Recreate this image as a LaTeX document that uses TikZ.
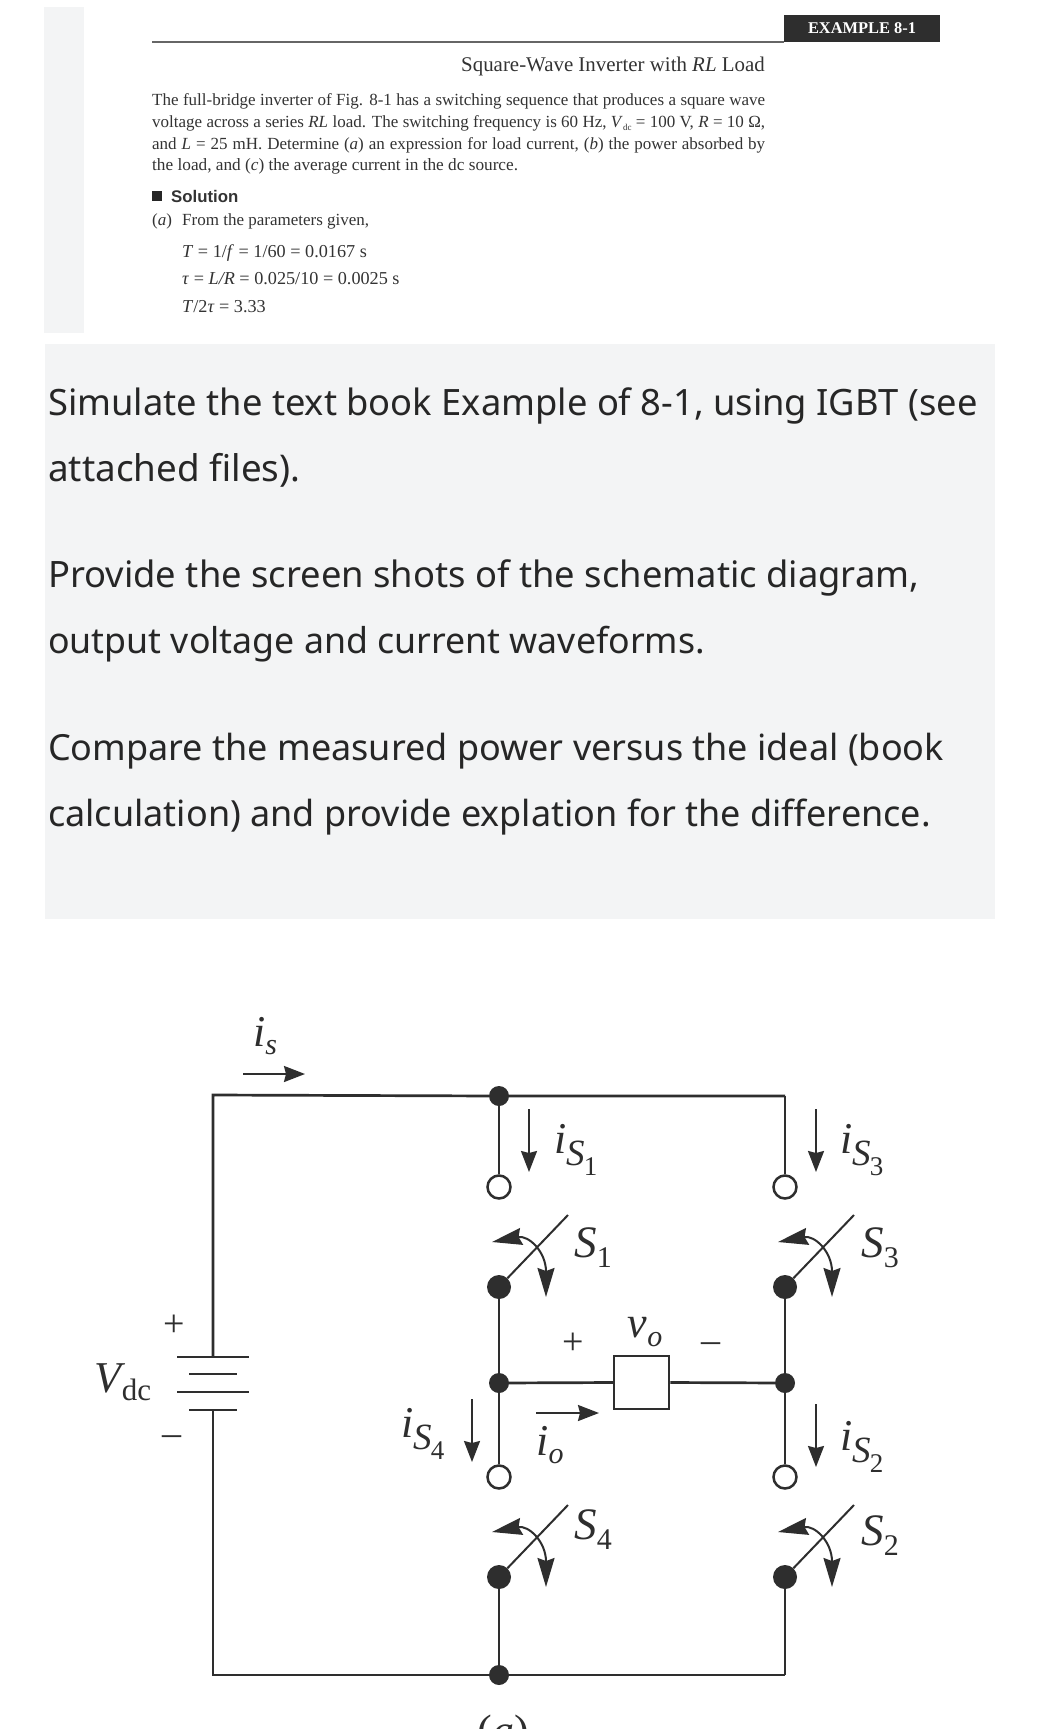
\documentclass[tikz,border=0pt]{standalone}
\usepackage{fontspec}
\usepackage{graphicx}
\usetikzlibrary{arrows.meta}
\setmainfont{Liberation Serif}
\newfontfamily\uifont{Noto Sans}
\newfontfamily\hfont{Liberation Sans}
\definecolor{ink}{HTML}{2E2E2E}
\definecolor{panel}{HTML}{F3F4F5}
\definecolor{textink}{HTML}{333333}
\newcommand\fs[1]{\fontsize{#1}{#1}\selectfont}
\newcommand\isub[1]{{\fs{44}\itshape i\hspace{-.02em}\raisebox{-.28em}{\fs{37}S\hspace{-.02em}\raisebox{-.28em}{\fs{27}\upshape #1}}}}
\newcommand\ssub[1]{{\fs{45}\itshape S\raisebox{-.22em}{\fs{30}\upshape #1}}}
\newcommand\bk[1]{{\fs{17}\color{textink}#1}}
\newcommand\bkq[1]{{\fs{18.2}\color{textink}#1}}
\newcommand\fitl[1]{\makebox[613pt][s]{\bk{#1}}}
\tikzset{
  wire/.style={draw=ink,line width=2.7pt},
  blade/.style={draw=ink,line width=2pt},
  platewire/.style={draw=ink,line width=2.2pt},
  thinarrow/.style={draw=ink,line width=2pt,-{Stealth[length=21pt,width=16pt,inset=2pt,fill=ink]}},
  swarrow/.style={draw=ink,line width=2pt,{Stealth[length=30pt,width=17pt,inset=3pt,fill=ink]}-{Stealth[length=29pt,width=17pt,inset=3pt,fill=ink]}},
  opendot/.style={circle,draw=ink,fill=white,line width=2.5pt,minimum size=23pt,inner sep=0pt},
  bigdot/.style={circle,fill=ink,minimum size=24pt,inner sep=0pt},
  smalldot/.style={circle,fill=ink,minimum size=20pt,inner sep=0pt},
  lab/.style={text=ink,inner sep=0pt},
  para/.style={anchor=west,inner sep=0pt},
  big/.style={anchor=base west,inner sep=0pt,text=black!85,font=\uifont\fs{36}}
}
\begin{document}
\begin{tikzpicture}[x=1pt,y=-1pt]
\useasboundingbox (0,0) rectangle (1059,1729);
\clip (0,0) rectangle (1059,1729);
\fill[white] (0,0) rectangle (1059,1729);
% panels
\fill[panel] (44,7) rectangle (84,333);
\fill[panel] (45,344) rectangle (995,919);
% book header
\draw[draw=black!60,line width=1.5pt] (152,42) -- (784,42);
\node[fill=ink,minimum width=156pt,minimum height=27pt,inner sep=0pt,text=white,font=\fs{16.4}\bfseries] (ex) at (862,28.5) {EXAMPLE 8-1};
\node[anchor=east,inner sep=0pt] (title) at (765,66) {{\fs{20.9}\color{textink}Square-Wave Inverter with \textit{RL} Load}};
\node[para] (l1) at (152,101) {\fitl{The full-bridge inverter of Fig. 8-1 has a switching sequence that produces a square wave}};
\node[para] (l2) at (152,123) {\fitl{voltage across a series \textit{RL} load. The switching frequency is 60 Hz, \textit{V}\raisebox{-.2em}{\fs{9}dc} = 100 V, \textit{R} = 10 Ω,}};
\node[para] (l3) at (152,145) {\fitl{and \textit{L} = 25 mH. Determine (\textit{a}) an expression for load current, (\textit{b}) the power absorbed by}};
\node[para] (l4) at (152,166) {{\fs{17.25}\color{textink}the load, and (\textit{c}) the average current in the dc source.}};
\fill[black!85] (152,191) rectangle (162,201);
\node[para] (sol) at (171,196) {{\hfont\bfseries\fs{16.8}\color{textink}Solution}};
\node[para] (pa) at (152,221) {\bk{(\textit{a})\hspace{.6em}From the parameters given,}};
\node[para] (e1) at (182,253) {\bkq{\textit{T} = 1/\textit{f} = 1/60 = 0.0167 s}};
\node[para] (e2) at (182,279) {\bkq{\textit{τ} = \textit{L/R} = 0.025/10 = 0.0025 s}};
\node[para] (e3) at (182,307) {\bkq{\textit{T}/2\textit{τ} = 3.33}};
% big text
\node[big,font=\uifont\fs{36.3}] (b1) at (48,415) {Simulate the text book Example of 8-1, using IGBT (see};
\node[big,font=\uifont\fs{36.8}] (b2) at (48,481) {attached files).};
\node[big,font=\uifont\fs{36.35}] (b3) at (48,587) {Provide the screen shots of the schematic diagram,};
\node[big,font=\uifont\fs{35.7}] (b4) at (48,653) {output voltage and current waveforms.};
\node[big] (b5) at (48,760) {Compare the measured power versus the ideal (book};
\node[big] (b6) at (48,826) {calculation) and provide explation for the difference.};
% circuit frame
\coordinate (tl) at (213,1095);
\coordinate (bl) at (213,1675);
\node[smalldot] (jt) at (499,1096) {};
\node[smalldot] (jb) at (499,1675) {};
\coordinate (tr) at (785,1096);
\coordinate (br) at (785,1675);
\node[smalldot] (ml) at (499,1383) {};
\node[smalldot] (mr) at (785,1383) {};
\node[draw=ink,fill=white,line width=2.5pt,minimum width=55pt,minimum height=53pt,inner sep=0pt] (load) at (641.5,1382.5) {};
% battery
\coordinate (p1l) at (177,1357); \coordinate (p1r) at (249,1357);
\coordinate (p2l) at (189,1374); \coordinate (p2r) at (237,1374);
\coordinate (p3l) at (177,1392); \coordinate (p3r) at (249,1392);
\coordinate (p4l) at (189,1410); \coordinate (p4r) at (237,1410);
\coordinate (bt) at (213,1357); \coordinate (bb) at (213,1410);
\draw[wire] (bt) -- (tl) -- (jt) -- (tr);
\draw[wire] (bb) -- (bl) -- (jb) -- (br);
\draw[platewire] (p1l) -- (p1r); \draw[platewire] (p2l) -- (p2r);
\draw[platewire] (p3l) -- (p3r); \draw[platewire] (p4l) -- (p4r);
% switches
\foreach \n/\x/\yo/\yd/\ya/\yb in {1/499/1187/1287/jt/ml, 3/785/1187/1287/tr/mr, 4/499/1477/1577/ml/jb, 2/785/1477/1577/mr/br}{
  \node[opendot] (o\n) at (\x,\yo) {};
  \node[bigdot] (d\n) at (\x,\yd) {};
  \draw[wire] (\ya) -- (o\n);
  \draw[wire] (d\n) -- (\yb);
  \coordinate (t\n) at (\x+69,\yd-72);
  \draw[blade] (d\n) -- (t\n);
  \coordinate (al\n) at (\x-7,\yd-45);
  \coordinate (ad\n) at (\x+47,\yd+10);
  \draw[swarrow] (al\n) .. controls (\x+30,\yd-52) and (\x+47,\yd-35) .. (ad\n);
}
\draw[wire] (ml) -- (load.west);
\draw[wire] (load.east) -- (mr);
% current arrows
\coordinate (a1s) at (529,1109); \coordinate (a1e) at (529,1172);
\coordinate (a3s) at (816,1109); \coordinate (a3e) at (816,1172);
\coordinate (a4s) at (472,1399); \coordinate (a4e) at (472,1462);
\coordinate (a2s) at (816,1404); \coordinate (a2e) at (816,1467);
\coordinate (ioS) at (536,1413); \coordinate (ioE) at (599,1413);
\coordinate (isS) at (243,1074); \coordinate (isE) at (305,1074);
\draw[thinarrow] (a1s) -- (a1e);
\draw[thinarrow] (a3s) -- (a3e);
\draw[thinarrow] (a4s) -- (a4e);
\draw[thinarrow] (a2s) -- (a2e);
\draw[thinarrow] (ioS) -- (ioE);
\draw[thinarrow] (isS) -- (isE);
% labels
\node[lab] (li1) at (576,1150) {\isub{1}};
\node[lab] (li3) at (862,1150) {\isub{3}};
\node[lab] (li2) at (862,1447) {\isub{2}};
\node[lab] (li4) at (423,1434) {\isub{4}};
\node[lab] (ls1) at (593,1248) {\ssub{1}};
\node[lab] (ls3) at (880,1248) {\ssub{3}};
\node[lab] (ls4) at (593,1530) {\ssub{4}};
\node[lab] (ls2) at (880,1536) {\ssub{2}};
\node[lab] (lio) at (550,1445) {{\fs{44}\itshape i\raisebox{-.2em}{\fs{30}o}}};
\node[lab] (lis) at (265,1036) {{\fs{44}\itshape i\raisebox{-.2em}{\fs{30}s}}};
\node[lab] (lvo) at (645,1332) {{\fs{44}\itshape v\raisebox{-.2em}{\fs{30}o}}};
\node[lab] (lvdc) at (123,1382) {{\fs{44}\itshape V\raisebox{-.18em}{\fs{31}\upshape dc}}};
\node[lab] (pb) at (174,1326) {{\fs{38}+}};
\node[lab] (mb) at (172,1441) {{\fs{38}–}};
\node[lab] (po) at (573,1344) {{\fs{38}+}};
\node[lab] (mo) at (711,1348) {{\fs{38}–}};
\node[lab] (cap) at (503,1735) {{\fs{44}(\textit{a})}};
\end{tikzpicture}
\end{document}
